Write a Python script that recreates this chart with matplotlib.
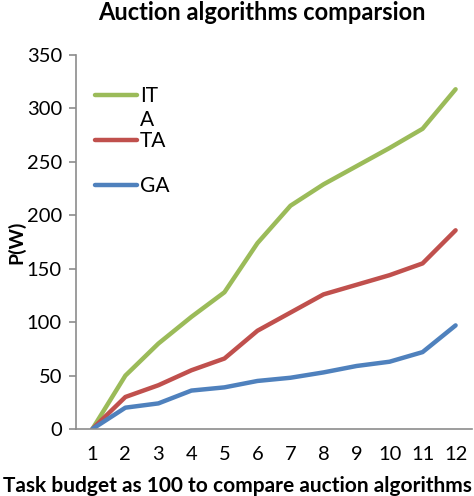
import matplotlib
matplotlib.use("Agg")
import matplotlib.pyplot as plt

# data
budgets = [1, 2, 3, 4, 5, 6, 7, 8, 9, 10, 11, 12]
ita = [0, 50, 80, 105, 128, 174, 209, 229, 246, 263, 281, 318]
ta = [0, 30, 41, 55, 66, 92, 109, 126, 135, 144, 155, 186]
ga = [0, 20, 24, 36, 39, 45, 48, 53, 59, 63, 72, 97]
y_ticks = [0, 50, 100, 150, 200, 250, 300, 350]

plt.rcParams['font.family'] = ['Lato', 'DejaVu Sans']

fig = plt.figure(figsize=(4.74, 4.96), dpi=100)
ax = fig.add_axes([0.160, 0.135, 0.836, 0.754])

ax.plot(budgets, ita, color='#9BBB59', linewidth=3.2, solid_capstyle='round', label='IT')
ax.plot(budgets, ta, color='#C0504D', linewidth=3.2, solid_capstyle='round', label='TA')
ax.plot(budgets, ga, color='#4F81BD', linewidth=3.2, solid_capstyle='round', label='GA')

ax.set_xlim(0.5, 12.5)
ax.set_ylim(0, 350)
ax.set_yticks(y_ticks)
ax.set_xticks(budgets)

for s in ['top', 'right']:
    ax.spines[s].set_visible(False)
for s in ['left', 'bottom']:
    ax.spines[s].set_color('#8c8c8c')
    ax.spines[s].set_linewidth(1.2)

ax.tick_params(axis='y', colors='#8c8c8c', labelcolor='black', labelsize=14.5, length=5, width=1.2, pad=5)
ax.tick_params(axis='x', length=0, labelsize=14.5, pad=12)

ax.set_title('Auction algorithms comparsion', fontsize=17, fontweight='bold', pad=25, x=0.47)
ax.set_xlabel('Task budget as 100 to compare auction algorithms', fontsize=15, fontweight='bold')
ax.xaxis.set_label_coords(0.407, -0.125)
ax.set_ylabel('P(W)', fontsize=14, fontweight='bold', labelpad=1)

leg = ax.legend(loc='upper left', bbox_to_anchor=(0.048, 0.917), frameon=False, fontsize=15,
                handlelength=2.0, handletextpad=0.15, labelspacing=1.2, borderpad=0,
                borderaxespad=0)
# the legend label "ITA" wraps in the original: second line under "IT"
ax.annotate('A', xy=(0, 0), xycoords=leg.get_texts()[0], xytext=(0, -3),
            textcoords='offset points', va='top', ha='left', fontsize=15, zorder=6)

fig.savefig('out.png', dpi=100)
